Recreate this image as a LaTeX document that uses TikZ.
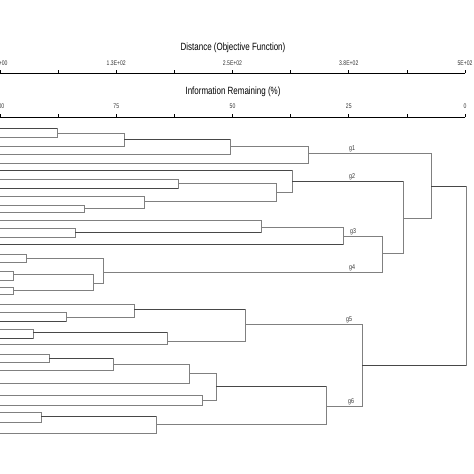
\documentclass[tikz,border=0pt]{standalone}
\usepackage{fontspec}
\setmainfont{Liberation Sans}[FakeStretch=0.76]
\newcommand{\linkpair}[3]{\draw[branch] (#1) -| (#2 -| #3) -- (#2);}
\begin{document}
\begin{tikzpicture}[x=1pt,y=-1pt,
    branch/.style={draw=black!50,line width=0.8pt},
    darkbranch/.style={draw=black!72,line width=1pt},
    axisline/.style={draw=black,line width=0.9pt},
    axistitle/.style={font=\fontsize{10.5}{11}\selectfont,inner sep=0pt},
    ticklabel/.style={font=\fontsize{6.7}{7}\selectfont,inner sep=0pt,text=black!80},
    grouplabel/.style={font=\fontsize{7}{8}\selectfont,above,inner sep=0.8pt,text=black!80}]
    \useasboundingbox (0,0) rectangle (474,474);
    \node[axistitle] (disttitle) at (233,47.5) {Distance (Objective Function)};
    \draw[axisline] (0,73.3) coordinate (dstart) -- (465,73.3) coordinate (dend);
    \foreach \i in {0,...,8} \draw[axisline,line width=0.6pt] (\i*58.13,73.3) -- ++(0,-3.5);
    \foreach \i/\t in {0/0E+00,2/1.3E+02,4/2.5E+02,6/3.8E+02,8/5E+02}
        \node[ticklabel] (dist\i) at (\i*58.13,63) {\t};
    \node[axistitle] (infotitle) at (233,92) {Information Remaining (\%)};
    \draw[axisline] (0,117.3) coordinate (istart) -- (465,117.3) coordinate (iend);
    \foreach \i in {0,...,8} \draw[axisline,line width=0.6pt] (\i*58.13,117.3) -- ++(0,-3.5);
    \foreach \i/\t in {0/100,2/75,4/50,6/25,8/0}
        \node[ticklabel] (info\i) at (\i*58.13,106) {\t};
    \foreach \n/\y in {1/128,2/137,3/146,4/154,5/163,6/170,7/179,8/188,9/196,10/205,11/212,12/220,
        13/228,14/237,15/244,16/254,17/262,18/271,19/280,20/287,21/294,22/304,23/312,24/321,
        25/329,26/338,27/344,28/354,29/362,30/370,31/383,32/395,33/405,34/412,35/422,36/433}
        \coordinate (l\n) at (0,\y);
    \foreach \n/\x/\y in {a1/57/133,a2/124/139,a3/230/146,a4/308/153,
        b1/178/183,b2/84/208,b3/144/201,b4/276/192,b5/292/181,
        c1/75/232,c2/261/227,c3/343/236,
        d1/26/258,d2/13/274,d3/13/290,d4/93/283,d5/103/272,
        e1/382/253,e2/403/218,e3/431/186,
        f1/66/317,f2/134/309,f3/33/332,f4/167/341,f5/245/324,
        h1/49/358,h2/113/364,h3/189/373,h4/202/400,h5/216/386,h6/41/416,h7/156/424,h8/326/406,
        k1/362/365,root/466/275}
        \coordinate (\n) at (\x,\y);
    \foreach \a/\b/\j in {l1/l2/a1,a1/l3/a2,a2/l4/a3,a3/l5/a4,
        l7/l8/b1,l10/l11/b2,l9/b2/b3,b1/b3/b4,l6/b4/b5,
        l13/l14/c1,l12/c1/c2,c2/l15/c3,
        l16/l17/d1,l18/l19/d2,l20/l21/d3,d2/d3/d4,d1/d4/d5,
        c3/d5/e1,b5/e1/e2,a4/e2/e3,
        l23/l24/f1,l22/f1/f2,l25/l26/f3,f3/l27/f4,f2/f4/f5,
        l28/l29/h1,h1/l30/h2,h2/l31/h3,l32/l33/h4,h3/h4/h5,l34/l35/h6,h6/l36/h7,h5/h7/h8,
        f5/h8/k1,e3/k1/root}
        \linkpair{\a}{\b}{\j};
    \foreach \a/\j in {l1/a1,a2/a3,l6/b5,l8/b1,b5/e2,c1/c2,l15/c3,l24/f1,l26/f3,
        f3/f4,f2/f5,h1/h2,h6/h7,h5/h8,k1/root,e3/root}
        \draw[darkbranch] (\a) -- (\a -| \j);
    \node[grouplabel] (g1) at (352,153) {g1};
    \node[grouplabel] (g2) at (352,181) {g2};
    \node[grouplabel] (g3) at (353,236) {g3};
    \node[grouplabel] (g4) at (352,272) {g4};
    \node[grouplabel] (g5) at (349,324) {g5};
    \node[grouplabel] (g6) at (351,406) {g6};
\end{tikzpicture}
\end{document}
